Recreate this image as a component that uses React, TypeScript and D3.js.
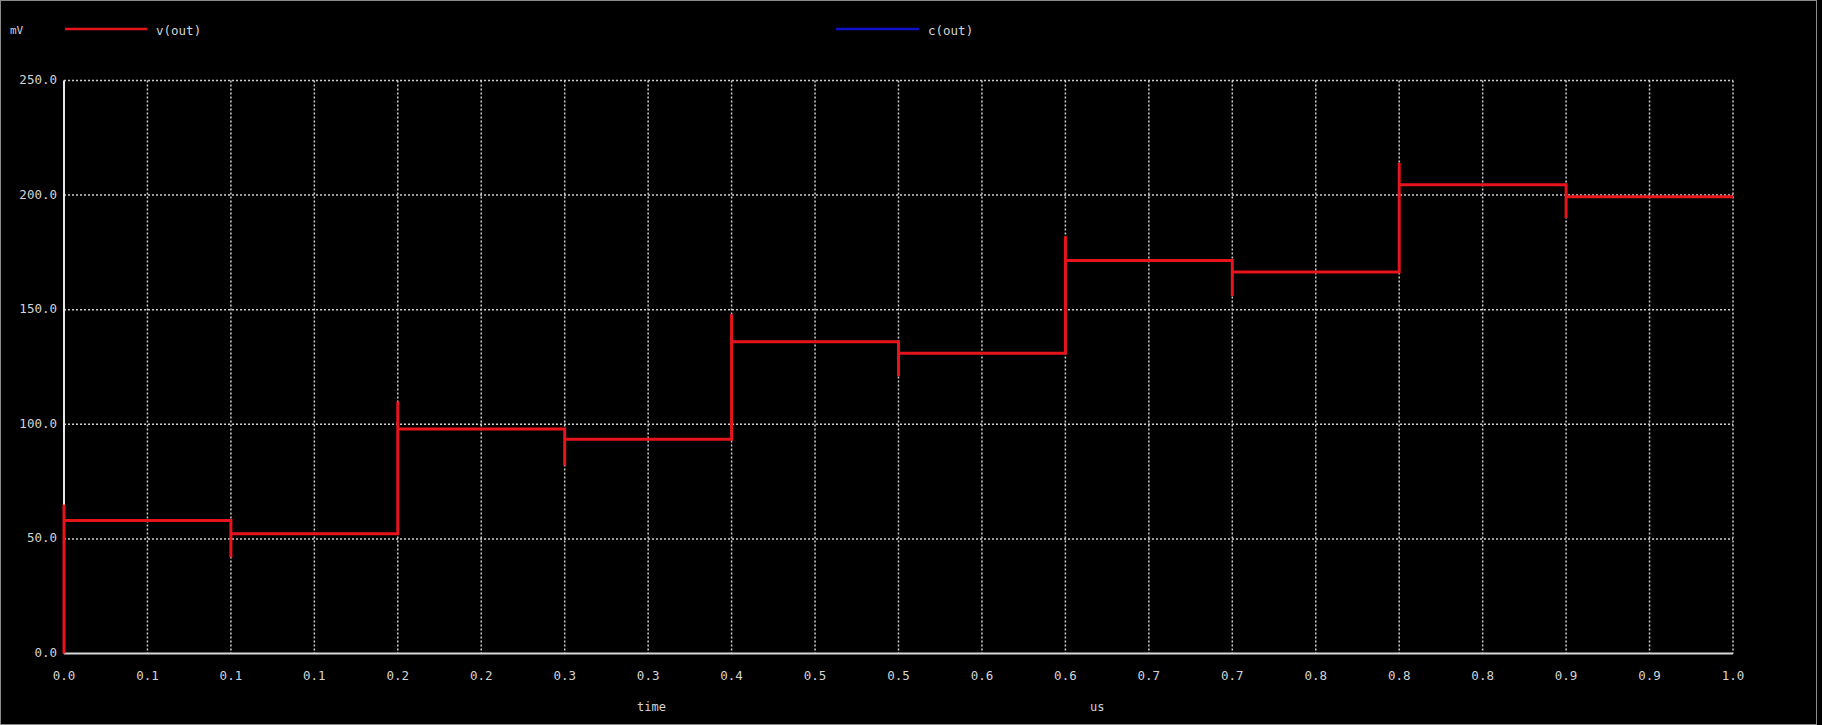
import { useEffect } from 'react';
import * as d3 from 'd3';

// tick positions (us) and the labels the simulator printed for them
const xTickValues = [0, 0.05, 0.1, 0.15, 0.2, 0.25, 0.3, 0.35, 0.4, 0.45, 0.5, 0.55, 0.6, 0.65, 0.7, 0.75, 0.8, 0.85, 0.9, 0.95, 1.0];
const xTickLabels = ['0.0', '0.1', '0.1', '0.1', '0.2', '0.2', '0.3', '0.3', '0.4', '0.5', '0.5', '0.6', '0.6', '0.7', '0.7', '0.8', '0.8', '0.8', '0.9', '0.9', '1.0'];
const yTickValues = [0, 50, 100, 150, 200, 250];
const yTickLabels = ['0.0', '50.0', '100.0', '150.0', '200.0', '250.0'];

// v(out): switching instants (us), overshoot at each switch, settled level afterwards (mV)
const stepTimes = [0, 0.1, 0.2, 0.3, 0.4, 0.5, 0.6, 0.7, 0.8, 0.9];
const spikeValues = [65, 42, 110, 82, 148, 121, 182, 156, 214, 190];
const levelValues = [58, 52.3, 98, 93.5, 136, 131, 171.5, 166.5, 204.5, 199.3];
const endTime = 1.0;

const legendItems = [
  { name: 'v(out)', color: '#e8141c' },
  { name: 'c(out)', color: '#1010c8' },
];

const W = 1822;
const H = 725;
const margin = { top: 80.5, right: 89, bottom: 71.5, left: 64 };
const textColor = '#d4d4d4';
const font = '"DejaVu Sans Mono", "Liberation Mono", monospace';

export default function App() {
  useEffect(() => {
    document.body.style.margin = '0';
    document.body.style.background = '#000';
  }, []);

  const x = d3.scaleLinear().domain([0, 1]).range([margin.left, W - margin.right]);
  const y = d3.scaleLinear().domain([0, 250]).range([H - margin.bottom, margin.top]);

  // build waveform: vertical edge to overshoot, then flat level
  const pts: [number, number][] = [[0, 0]];
  stepTimes.forEach((t, i) => {
    const prev = i === 0 ? 0 : levelValues[i - 1];
    pts.push([t, prev]);
    pts.push([t, spikeValues[i]]);
    pts.push([t, levelValues[i]]);
    const next = i + 1 < stepTimes.length ? stepTimes[i + 1] : endTime;
    pts.push([next, levelValues[i]]);
  });
  const line = d3.line<[number, number]>().x(d => x(d[0])).y(d => y(d[1]));

  const x0 = x(0);
  const x1 = x(1);
  const y0 = y(0);
  const y1 = y(250);

  return (
    <svg width={W} height={H} style={{ display: 'block', background: '#000' }}>
      <rect x={0.5} y={0.5} width={W - 6} height={H - 1} fill="#000" stroke="#8a8a8a" strokeWidth={1} />

      {/* legend */}
      <text x={10} y={31} fill={textColor} fontFamily={font} fontSize={11} dominantBaseline="middle">mV</text>
      <line x1={65} x2={147} y1={29} y2={29} stroke={legendItems[0].color} strokeWidth={2.5} />
      <text x={156} y={31} fill={textColor} fontFamily={font} fontSize={12.5} dominantBaseline="middle">{legendItems[0].name}</text>
      <line x1={836} x2={919} y1={29} y2={29} stroke={legendItems[1].color} strokeWidth={2.5} />
      <text x={928} y={31} fill={textColor} fontFamily={font} fontSize={12.5} dominantBaseline="middle">{legendItems[1].name}</text>

      {/* grid */}
      {yTickValues.filter(v => v > 0).map(v => (
        <line key={'gy' + v} x1={x0} x2={x1} y1={y(v)} y2={y(v)} stroke="#cfcfcf" strokeWidth={1.5} strokeDasharray="2,2" />
      ))}
      {xTickValues.filter(v => v > 0).map(v => (
        <line key={'gx' + v} x1={x(v)} x2={x(v)} y1={y1} y2={y0} stroke="#cfcfcf" strokeWidth={1.5} strokeDasharray="2,2" />
      ))}

      {/* axes */}
      <line x1={x0} x2={x0} y1={y1} y2={y0} stroke="#e8e8e8" strokeWidth={2} />
      <line x1={x0} x2={x1} y1={y0} y2={y0} stroke="#d8d8d8" strokeWidth={2} />

      {/* tick labels */}
      {yTickValues.map((v, i) => (
        <text key={'ty' + v} x={57} y={y(v)} fill={textColor} fontFamily={font} fontSize={12.5} textAnchor="end" dominantBaseline="middle">
          {yTickLabels[i]}
        </text>
      ))}
      {xTickValues.map((v, i) => (
        <text key={'tx' + v} x={x(v)} y={676} fill={textColor} fontFamily={font} fontSize={12.5} textAnchor="middle" dominantBaseline="middle">
          {xTickLabels[i]}
        </text>
      ))}
      <text x={637} y={707} fill={textColor} fontFamily={font} fontSize={12} dominantBaseline="middle">time</text>
      <text x={1090} y={707} fill={textColor} fontFamily={font} fontSize={12} dominantBaseline="middle">us</text>

      {/* series */}
      <path d={line(pts) ?? ''} fill="none" stroke={legendItems[0].color} strokeWidth={3} strokeLinejoin="miter" />
    </svg>
  );
}
